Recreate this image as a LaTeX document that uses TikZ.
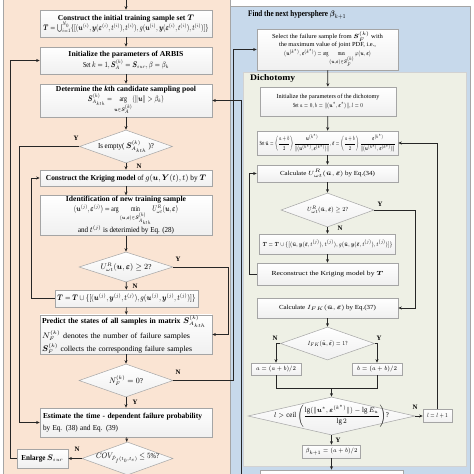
\documentclass[tikz,border=0pt]{standalone}
\usepackage{amsmath, amssymb}
\usepackage{bm}
\usepackage{graphicx}
\usepackage{fontspec}
\setmainfont{Liberation Serif}
\usepackage{xcolor}
\usetikzlibrary{shapes.geometric, arrows.meta, positioning}

\definecolor{peach}{RGB}{250,228,211}
\definecolor{panelblue}{RGB}{199,217,235}
\definecolor{panelgreen}{RGB}{238,240,229}
\definecolor{edgegray}{RGB}{165,165,165}

\newcommand{\lsize}{\fontsize{7.6}{9.8}\selectfont}
\newcommand{\rsize}{\fontsize{6.2}{7.8}\selectfont}
% squeeze a line to a given width, keeping its height
\newcommand{\squeeze}[2]{\resizebox{#1}{\height}{#2}}

\begin{document}
\begin{tikzpicture}[x=1pt, y=-1pt,
  box/.style={rectangle, draw=edgegray, line width=0.5pt, top color=white,
              bottom color=gray!12, inner sep=1pt, align=center, font=\lsize},
  rbox/.style={box, font=\rsize},
  decision/.style={diamond, draw=edgegray, line width=0.5pt, top color=white,
                   bottom color=gray!12, inner sep=0pt},
  hdr/.style={font=\fontsize{8.5}{9}\selectfont\bfseries, inner sep=1pt},
  conn/.style={line width=0.7pt, draw=black!85},
  arr/.style={conn, -{Stealth[length=3.6pt, width=3pt]}},
  yn/.style={font=\fontsize{6.8}{7}\selectfont\bfseries, inner sep=0pt},
  every label/.style={font=\lsize, inner sep=0pt}
]
  \useasboundingbox (0,0) rectangle (474,474);
  \clip (0,0) rectangle (474,474);
  \fill[white] (0,0) rectangle (474,474);

  % panels
  \filldraw[fill=peach, draw=edgegray] (3,-5) rectangle (230,480);
  \filldraw[fill=panelblue, draw=edgegray] (230,6) rectangle (470,480);
  \filldraw[fill=panelgreen, draw=gray!35] (243,72) rectangle (466,466);

  % main loop
  \coordinate (top) at (126,-4);
  \node[box, minimum width=172pt, minimum height=27pt] (init) at (126,23.5)
    {\squeeze{136pt}{\textbf{Construct the initial training sample set $\bm T$}}\\
     \squeeze{165pt}{$\bm T=\bigcup_{i=1}^{N_0}\{[(\bm u^{(i)},\bm y(\bm\varepsilon^{(i)},t^{(i)}),t^{(i)}),g(\bm u^{(i)},\bm y(\bm\varepsilon^{(i)},t^{(i)}),t^{(i)})]\}$}};
  \node[box, minimum width=172pt, minimum height=27pt] (arbis) at (126,60.5)
    {\squeeze{115pt}{\textbf{Initialize the parameters of ARBIS}}\\[1pt]
     \squeeze{86pt}{Set $k=1,\bm S_A^{(k)}=\bm S_{sur},\beta=\beta_k$}};
  \node[box, minimum width=172pt, minimum height=33pt] (pool) at (126,100.5)
    {\squeeze{140pt}{\textbf{Determine the \textit{k}th candidate sampling pool}}\\
     \squeeze{76pt}{$\bm S^{(k)}_{A_{kth}}=\mathop{\arg}\limits_{\bm u\in\bm S_A^{(k)}}(\|\bm u\|>\beta_k)$}};
  \node[decision, minimum width=93pt, minimum height=33pt,
        label=center:{\squeeze{56pt}{Is empty( $\bm S^{(k)}_{A_{kth}}$ )?}}] (isempty) at (126,146.5) {};
  \node[box, minimum width=172pt, minimum height=16pt] (kriging) at (126,178)
    {\squeeze{160pt}{\textbf{Construct the Kriging model} of $g(\bm u,\bm Y(t),t)$ by $\bm T$}};
  \node[box, minimum width=172pt, minimum height=39pt] (ident) at (126,215.5)
    {\squeeze{120pt}{\textbf{Identification of new training sample}}\\
     \squeeze{104pt}{$(\bm u^{(j)},\bm\varepsilon^{(j)})=\arg\min\limits_{(\bm u,\bm\varepsilon)\in\bm S^{(k)}_{A_{kth}}}U^R_{\omega t}(\bm u,\bm\varepsilon)$}\\
     \squeeze{96pt}{and $t^{(j)}$ is deterimied by Eq. (28)}};
  \node[decision, minimum width=94pt, minimum height=30pt,
        label=center:{\squeeze{51pt}{$U^R_{\omega t}(\bm u,\bm\varepsilon)\geq 2$?}}] (ucheck) at (126,267) {};
  \node[box, minimum width=143pt, minimum height=17pt] (tadd) at (126.5,298.5)
    {\squeeze{138pt}{$\bm T=\bm T\cup\{[(\bm u^{(j)},\bm y^{(j)},t^{(j)}),g(\bm u^{(j)},\bm y^{(j)},t^{(j)})]\}$}};
  \node[box, align=left, text width=168pt, inner xsep=2pt, minimum height=37pt] (predict) at (126,334.5)
    {\squeeze{164pt}{\textbf{Predict the states of all samples in matrix $\bm S^{(k)}_{A_{kth}}$}}\\[2.5pt]
     \squeeze{148pt}{$N_F^{(k)}$ denotes the number of failure samples}\\[2.5pt]
     \squeeze{150pt}{$\bm S_F^{(k)}$ collects the corresponding failure samples}};
  \node[decision, minimum width=94pt, minimum height=33pt,
        label=center:{\squeeze{34pt}{$N_F^{(k)}=0$?}}] (nfcheck) at (126,380.5) {};
  \node[box, align=left, text width=166pt, inner xsep=3pt, minimum height=29pt] (estimate) at (126,422.5)
    {\squeeze{159pt}{\textbf{Estimate the time - dependent failure probability}}\\[2pt]
     \squeeze{75pt}{by Eq. (38) and Eq. (39)}};
  \node[decision, minimum width=91pt, minimum height=33pt,
        label=center:{\squeeze{63pt}{$COV_{\hat P_f(t_0,t_e)}\leq 5\%$?}}] (covcheck) at (127.5,458.5) {};
  \node[box, minimum width=51pt, minimum height=19pt] (enlarge) at (42.5,458.5)
    {\squeeze{42pt}{\textbf{Enlarge $\bm S_{sur}$}}};

  \draw[arr] (top) -- (init);
  \draw[arr] (init) -- (arbis);
  \draw[arr] (arbis) -- (pool);
  \draw[arr] (pool) -- (isempty);
  \draw[arr] (isempty) -- (kriging);
  \draw[arr] (kriging) -- (ident);
  \draw[arr] (ident) -- (ucheck);
  \draw[arr] (ucheck) -- (tadd);
  \draw[arr] (tadd) -- (predict);
  \draw[arr] (predict) -- (nfcheck);
  \draw[arr] (nfcheck) -- (estimate);
  \draw[arr] (estimate) -- (covcheck);
  \draw[arr] (isempty.west) -- ++(-59.5,0) |- (estimate.west);
  \draw[arr] (tadd.west) -- ++(-23,0) |- (kriging.west);
  \draw[arr] (covcheck.west) -- (enlarge.east);
  \draw[arr] (enlarge.west) -- ++(-6,0) |- (arbis.west);
  \draw[arr] (ucheck.east) -- ++(55,0) |- (predict.east);

  \node[yn] (yEmpty) at (76,138) {Y};
  \node[yn] (nEmpty) at (139,166) {N};
  \node[yn] (yU) at (178,259) {Y};
  \node[yn] (nU) at (135,286) {N};
  \node[yn] (nNF) at (178,372) {N};
  \node[yn] (yNF) at (135,402) {Y};
  \node[yn] (nCOV) at (77,449) {N};

  % next hypersphere
  \node[hdr, anchor=west] (findhdr) at (247,15)
    {\squeeze{98pt}{Find the next hypersphere $\bm\beta_{k+1}$}};
  \node[rbox, minimum width=141pt, minimum height=41pt] (select) at (327.5,49.5)
    {\squeeze{111pt}{Select the failure sample from $\bm S_F^{(k)}$ with}\\
     \squeeze{97pt}{the maximum value of joint PDF, i.e.,}\\
     \squeeze{87pt}{$(\bm u^{(k^*)},\bm\varepsilon^{(k^*)})=\arg\max\limits_{(\bm u,\bm\varepsilon)\in\bm S_F^{(k)}}\varphi(\bm u,\bm\varepsilon)$}};
  \node[hdr, anchor=west] (dichhdr) at (249,78) {\squeeze{45pt}{Dichotomy}};
  \node[rbox, minimum width=136pt, minimum height=29pt] (initd) at (328,101.5)
    {\squeeze{103pt}{Initialize the parameters of the dichotomy}\\[1pt]
     \squeeze{70pt}{Set $a=0,b=\|(\bm u^*,\bm\varepsilon^*)\|,l=0$}};
  \node[rbox, minimum width=141pt, minimum height=24pt] (setmid) at (327.5,143)
    {\squeeze{136pt}{Set $\bar{\bm u}=\left(\dfrac{a+b}{2}\right)\dfrac{\bm u^{(k^*)}}{\|(\bm u^{(k^*)},\bm\varepsilon^{(k^*)})\|},\bar{\bm\varepsilon}=\left(\dfrac{a+b}{2}\right)\dfrac{\bm\varepsilon^{(k^*)}}{\|(\bm u^{(k^*)},\bm\varepsilon^{(k^*)})\|}$}};
  \node[rbox, minimum width=141pt, minimum height=17pt] (calcu) at (327.5,173.5)
    {\squeeze{95pt}{Calculate $U^R_{\omega t}(\bar{\bm u},\bar{\bm\varepsilon})$ by Eq.(34)}};
  \node[decision, minimum width=93pt, minimum height=34pt,
        label={[font=\rsize]center:{\squeeze{41pt}{$U^R_{\omega t}(\bar{\bm u},\bar{\bm\varepsilon})\geq 2$?}}}] (ucheckd) at (327.5,210) {};
  \node[rbox, minimum width=136pt, minimum height=20pt] (taddd) at (327.5,244)
    {\squeeze{130pt}{$\bm T=\bm T\cup\{[(\bar{\bm u},\bm y(\bar{\bm\varepsilon},t^{(j)}),t^{(j)}),g(\bar{\bm u},\bm y(\bar{\bm\varepsilon},t^{(j)}),t^{(j)})]\}$}};
  \node[rbox, minimum width=141pt, minimum height=22pt] (recon) at (327.5,274)
    {\squeeze{112pt}{Reconstruct the Kriging model by $\bm T$}};
  \node[rbox, minimum width=141pt, minimum height=20pt] (calci) at (327.5,308)
    {\squeeze{97pt}{Calculate $I_{FK}(\bar{\bm u},\bar{\bm\varepsilon})$ by Eq.(37)}};
  \node[decision, minimum width=94pt, minimum height=33pt,
        label={[font=\rsize]center:{\squeeze{40pt}{$I_{FK}(\bar{\bm u},\bar{\bm\varepsilon})=1$?}}}] (icheck) at (327.5,343.5) {};
  \node[rbox, minimum width=50pt, minimum height=12pt] (lower) at (276,369) {\squeeze{40pt}{$a=(a+b)/2$}};
  \node[rbox, minimum width=50pt, minimum height=12pt] (upper) at (377,369) {\squeeze{40pt}{$b=(a+b)/2$}};
  \coordinate (merge) at (331.5,388);
  \node[decision, minimum width=167pt, minimum height=38pt,
        label={[font=\fontsize{7.4}{8}\selectfont]center:{\squeeze{115pt}{$l>\mathrm{ceil}\left(\dfrac{\lg(\|\bm u^*,\bm\varepsilon^{(k^*)}\|)-\lg E_u}{\lg 2}\right)$?}}}] (lcheck) at (331.5,416) {};
  \node[rbox, minimum width=29pt, minimum height=13pt] (lstep) at (437.5,416) {\squeeze{21pt}{$l=l+1$}};
  \node[rbox, minimum width=58pt, minimum height=13pt] (betanew) at (331.5,451.5) {\squeeze{52pt}{$\beta_{k+1}=(a+b)/2$}};
  \node[rbox, minimum width=143pt, minimum height=30pt] (update) at (331.5,485) {};
  \coordinate (loopin) at (241,480);

  \draw[arr] (nfcheck.east) -- ++(60,0) |- (select.west);
  \draw[arr] (select) -- (initd);
  \draw[arr] (initd) -- (setmid);
  \draw[arr] (setmid) -- (calcu);
  \draw[arr] (calcu) -- (ucheckd);
  \draw[arr] (ucheckd) -- (taddd);
  \draw[arr] (taddd) -- (recon);
  \draw[arr] (recon.west) -- ++(-7,0) |- (calcu.west);
  \draw[arr] (ucheckd.east) -- ++(41,0) |- (calci.east);
  \draw[arr] (calci) -- (icheck);
  \draw[arr] (icheck.west) -| (lower.north);
  \draw[arr] (icheck.east) -| (upper.north);
  \draw[conn] (lower.south) |- (merge);
  \draw[conn] (upper.south) |- (merge);
  \draw[arr] (merge) -- (lcheck);
  \draw[arr] (lcheck) -- (lstep);
  \draw[arr] (lstep) |- (setmid.east);
  \draw[arr] (lcheck) -- (betanew);
  \draw[arr] (betanew) -- (update);
  \draw[arr] (loopin) |- (pool.east);

  \node[yn] (yUd) at (380,204) {Y};
  \node[yn] (nUd) at (340,228) {N};
  \node[yn] (nI) at (275,338) {N};
  \node[yn] (yI) at (379,338) {Y};
  \node[yn] (nL) at (415,407) {N};
  \node[yn] (yL) at (338,440) {Y};
\end{tikzpicture}
\end{document}
